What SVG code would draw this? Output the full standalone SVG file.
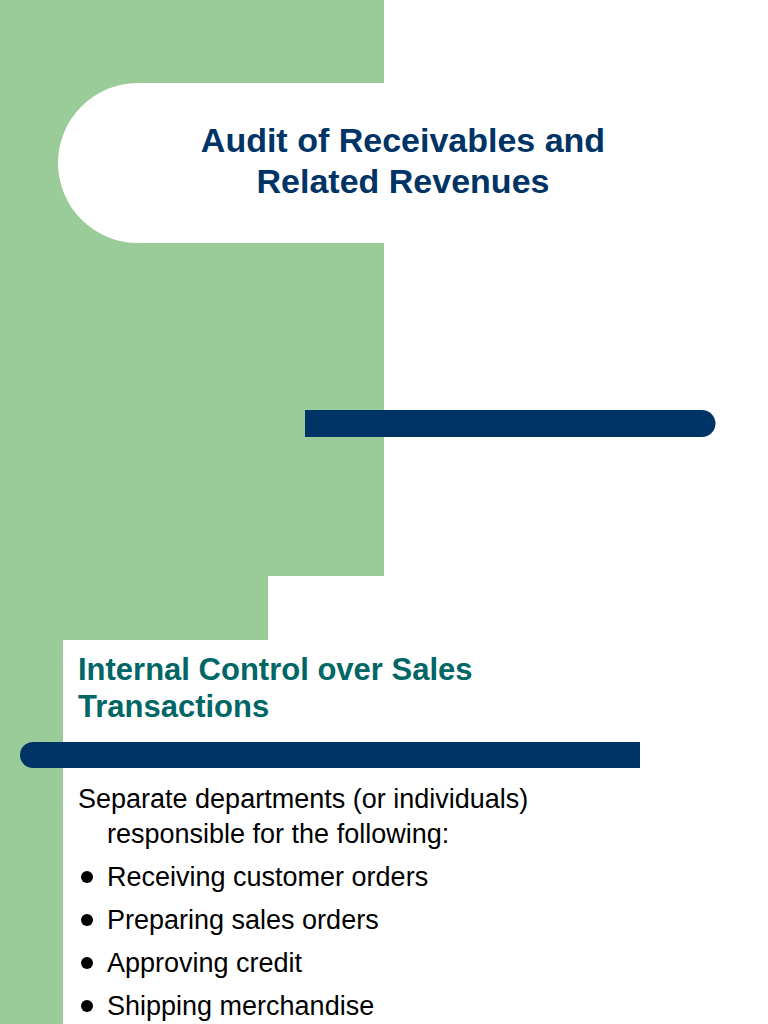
<svg xmlns="http://www.w3.org/2000/svg" width="768" height="1024" viewBox="0 0 768 1024">
<style>
.t1{font-family:"Liberation Sans",Arial,sans-serif;font-weight:bold;font-size:34px;fill:#003366;text-anchor:middle}
.t2{font-family:"Liberation Sans",Arial,sans-serif;font-weight:bold;font-size:31px;fill:#006666}
.b{font-family:"Liberation Sans",Arial,sans-serif;font-size:27px;fill:#000}
.g{fill:#99cc99}.n{fill:#003366}
</style>
<rect width="768" height="1024" fill="#fff"/>
<rect class="g" x="0" y="0" width="384" height="576"/>
<path fill="#fff" d="M138,83 H384 V243 H138 A80,80 0 0 1 138,83 Z"/>
<path class="n" d="M305,410 H702 A13.5,13.5 0 0 1 702,437 H305 Z"/>
<text class="t1" x="403" y="152">Audit of Receivables and</text>
<text class="t1" x="403" y="193">Related Revenues</text>
<rect class="g" x="0" y="576" width="268" height="64"/>
<rect class="g" x="0" y="640" width="63" height="384"/>
<path class="n" d="M33,742 H640 V768 H33 A13,13 0 0 1 33,742 Z"/>
<text class="t2" x="78" y="680">Internal Control over Sales</text>
<text class="t2" x="78" y="717">Transactions</text>
<text class="b" x="78" y="808">Separate departments (or individuals)</text>
<text class="b" x="107" y="843">responsible for the following:</text>
<g fill="#000"><circle cx="87" cy="877" r="6"/><circle cx="87" cy="920" r="6"/><circle cx="87" cy="963" r="6"/><circle cx="87" cy="1006" r="6"/></g>
<text class="b" x="107" y="886">Receiving customer orders</text>
<text class="b" x="107" y="929">Preparing sales orders</text>
<text class="b" x="107" y="972">Approving credit</text>
<text class="b" x="107" y="1015">Shipping merchandise</text>
</svg>
